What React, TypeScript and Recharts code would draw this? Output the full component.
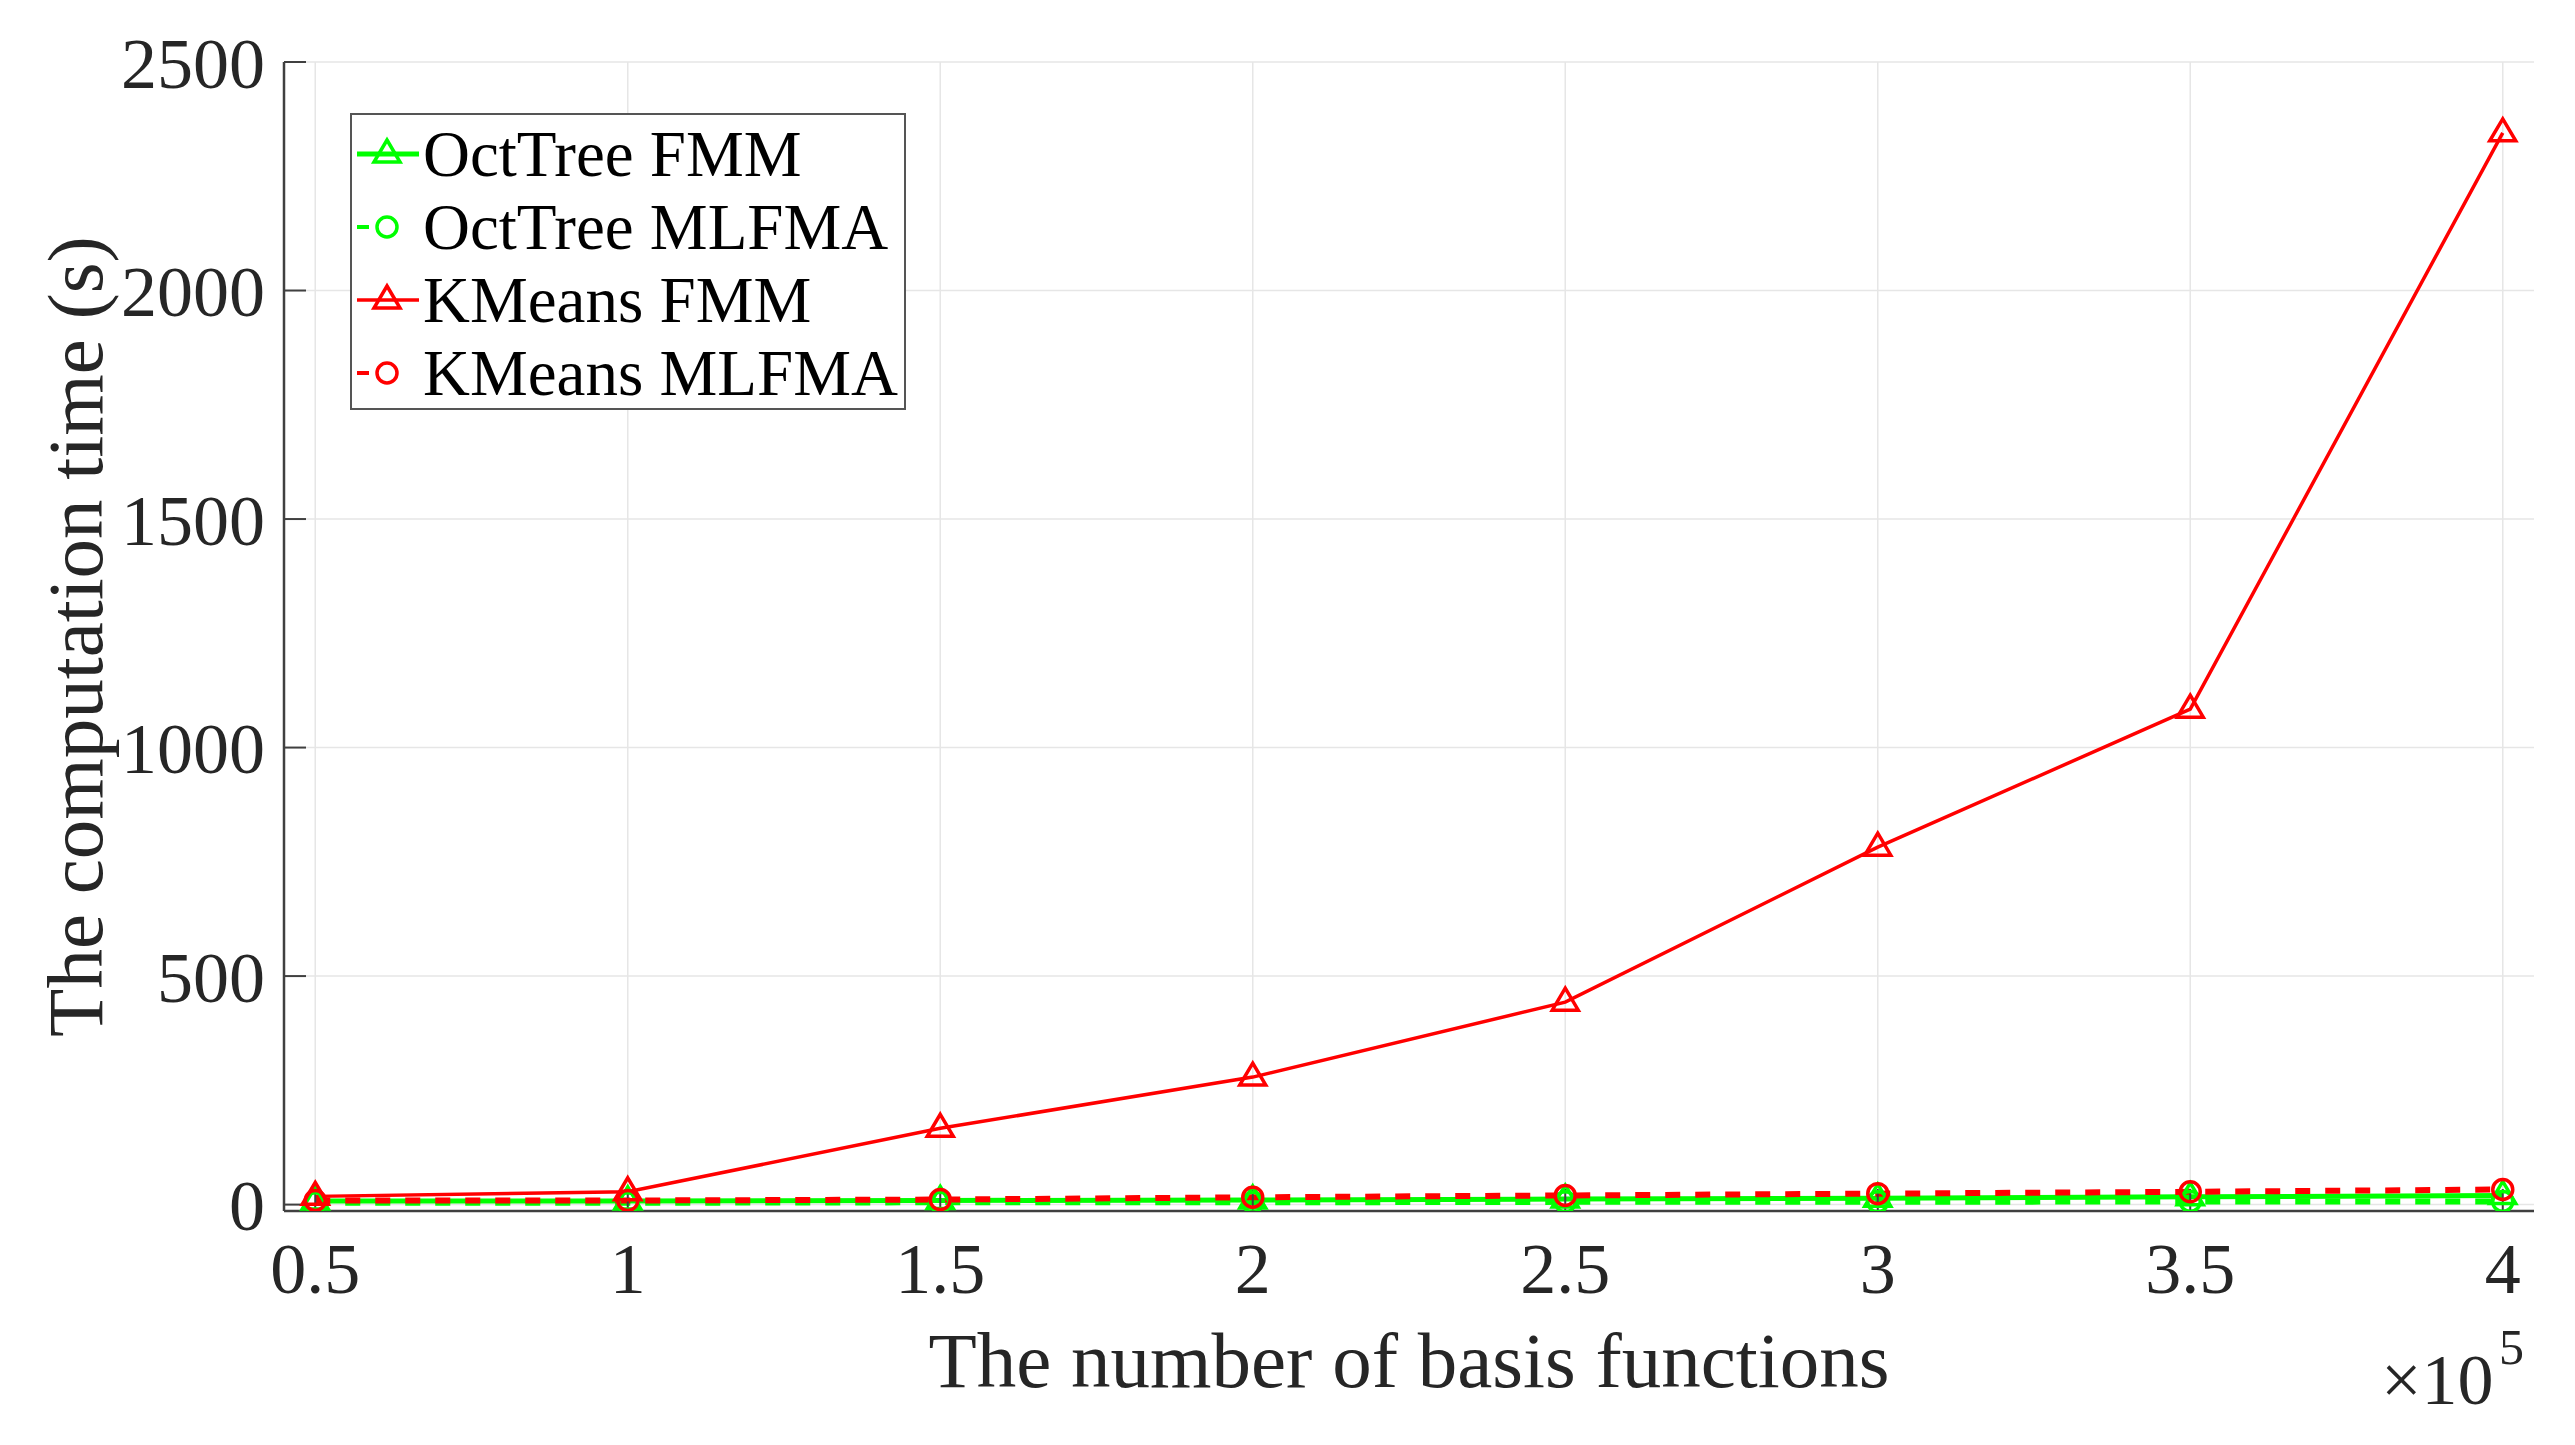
import { CartesianGrid, Line, LineChart, XAxis, YAxis } from "recharts";

// number of basis functions (x 10^5)
const basisCounts = [0.5, 1, 1.5, 2, 2.5, 3, 3.5, 4];
const octTreeFmm = [8, 8, 9, 10, 12, 14, 17, 20];
const octTreeMlfma = [4, 4, 5, 5, 6, 6, 7, 7];
const kMeansFmm = [18, 28, 167, 279, 443, 782, 1084, 2345];
const kMeansMlfma = [9, 9, 11, 16, 20, 24, 28, 33];
const xTicks = [0.5, 1, 1.5, 2, 2.5, 3, 3.5, 4];
const yTicks = [0, 500, 1000, 1500, 2000, 2500];

const GREEN = "#00ff00";
const RED = "#ff0000";
const FONT = "'Liberation Serif', 'Times New Roman', serif";

const data = basisCounts.map((n, i) => ({
  n,
  octFmm: octTreeFmm[i],
  octMlfma: octTreeMlfma[i],
  kmFmm: kMeansFmm[i],
  kmMlfma: kMeansMlfma[i],
}));

type Marker = "triangle" | "circle";

const series: {
  key: string;
  name: string;
  color: string;
  marker: Marker;
  dashed: boolean;
  width: number;
}[] = [
  { key: "octFmm", name: "OctTree FMM", color: GREEN, marker: "triangle", dashed: false, width: 5 },
  { key: "octMlfma", name: "OctTree MLFMA", color: GREEN, marker: "circle", dashed: true, width: 6 },
  { key: "kmFmm", name: "KMeans FMM", color: RED, marker: "triangle", dashed: false, width: 3.5 },
  { key: "kmMlfma", name: "KMeans MLFMA", color: RED, marker: "circle", dashed: true, width: 6 },
];

function markerShape(marker: Marker, cx: number, cy: number, color: string, key?: string | number) {
  if (marker === "triangle") {
    return (
      <path
        key={key}
        d={`M${cx},${cy - 14} L${cx + 13},${cy + 8} L${cx - 13},${cy + 8} Z`}
        fill="none"
        stroke={color}
        strokeWidth={3.5}
      />
    );
  }
  return <circle key={key} cx={cx} cy={cy} r={10} fill="none" stroke={color} strokeWidth={3.5} />;
}

function makeDot(marker: Marker, color: string) {
  return (props: any) => {
    const { cx, cy, index } = props;
    if (cx == null || cy == null) return <g key={index} />;
    return markerShape(marker, cx, cy, color, index);
  };
}

function LegendBox() {
  return (
    <div
      style={{
        position: "absolute",
        left: 350,
        top: 113,
        width: 556,
        height: 297,
        boxSizing: "border-box",
        border: "2px solid #555",
        background: "#fff",
        paddingTop: 3,
        fontFamily: FONT,
        fontSize: 65,
        color: "#000",
      }}
    >
      {series.map((s) => (
        <div key={s.key} style={{ height: 73, display: "flex", alignItems: "center" }}>
          <svg width={66} height={73} style={{ marginLeft: 5, flex: "none" }}>
            {s.dashed ? (
              <line x1={0} y1={36} x2={12} y2={36} stroke={s.color} strokeWidth={4} />
            ) : (
              <line x1={0} y1={36} x2={62} y2={36} stroke={s.color} strokeWidth={s.width} />
            )}
            {markerShape(s.marker, 30, 36, s.color)}
          </svg>
          <span style={{ lineHeight: "73px", whiteSpace: "nowrap" }}>{s.name}</span>
        </div>
      ))}
    </div>
  );
}

export default function App() {
  const tickStyle = { fontSize: 72, fill: "#262626", fontFamily: FONT };
  return (
    <div
      style={{
        position: "absolute",
        left: 0,
        top: 0,
        width: 2575,
        height: 1445,
        background: "#fff",
        fontFamily: FONT,
      }}
    >
      <LineChart
        width={2575}
        height={1445}
        data={data}
        margin={{ top: 62, right: 41, bottom: 44, left: 14 }}
      >
        <CartesianGrid stroke="#e6e6e6" strokeWidth={1.5} horizontalValues={yTicks} verticalValues={xTicks} />
        <XAxis
          dataKey="n"
          type="number"
          domain={[0.45, 4.05]}
          ticks={xTicks}
          allowDataOverflow
          height={190}
          tick={tickStyle}
          tickSize={-22}
          tickMargin={53}
          axisLine={{ stroke: "#404040", strokeWidth: 2.5 }}
          tickLine={{ stroke: "#404040", strokeWidth: 2 }}
          label={{
            value: "The number of basis functions",
            position: "insideBottom",
            offset: 14,
            style: { fontSize: 79, fill: "#262626", fontFamily: FONT },
          }}
        />
        <XAxis
          xAxisId="top"
          dataKey="n"
          type="number"
          orientation="top"
          domain={[0.45, 4.05]}
          ticks={xTicks}
          allowDataOverflow
          height={0}
          tickSize={-22}
          tickFormatter={() => ""}
          axisLine={{ stroke: "#8a8a8a", strokeWidth: 2 }}
          tickLine={{ stroke: "#8a8a8a", strokeWidth: 2 }}
        />
        <YAxis
          type="number"
          domain={[-14, 2500]}
          ticks={yTicks}
          allowDataOverflow
          width={270}
          tick={tickStyle}
          tickSize={-22}
          tickMargin={41}
          axisLine={{ stroke: "#404040", strokeWidth: 2.5 }}
          tickLine={{ stroke: "#404040", strokeWidth: 2 }}
          label={{
            value: "The computation time (s)",
            angle: -90,
            position: "insideLeft",
            offset: 60,
            style: { fontSize: 79, fill: "#262626", fontFamily: FONT, textAnchor: "middle" },
          }}
        />
        <YAxis
          yAxisId="right"
          orientation="right"
          type="number"
          domain={[-14, 2500]}
          ticks={yTicks}
          allowDataOverflow
          width={0}
          tickSize={-22}
          tickFormatter={() => ""}
          axisLine={{ stroke: "#8a8a8a", strokeWidth: 2 }}
          tickLine={{ stroke: "#8a8a8a", strokeWidth: 2 }}
        />
        {series.map((s) => (
          <Line
            key={s.key}
            dataKey={s.key}
            name={s.name}
            type="linear"
            stroke={s.color}
            strokeWidth={s.width}
            strokeDasharray={s.dashed ? "15 15" : undefined}
            dot={makeDot(s.marker, s.color)}
            activeDot={false}
            isAnimationActive={false}
          />
        ))}
      </LineChart>
      <LegendBox />
      <span
        style={{
          position: "absolute",
          left: 2381,
          top: 1344,
          fontSize: 72,
          lineHeight: 1,
          color: "#262626",
          fontFamily: FONT,
          whiteSpace: "nowrap",
        }}
      >
        ×10
      </span>
      <span
        style={{
          position: "absolute",
          left: 2499,
          top: 1322,
          fontSize: 50,
          lineHeight: 1,
          color: "#262626",
          fontFamily: FONT,
        }}
      >
        5
      </span>
    </div>
  );
}
